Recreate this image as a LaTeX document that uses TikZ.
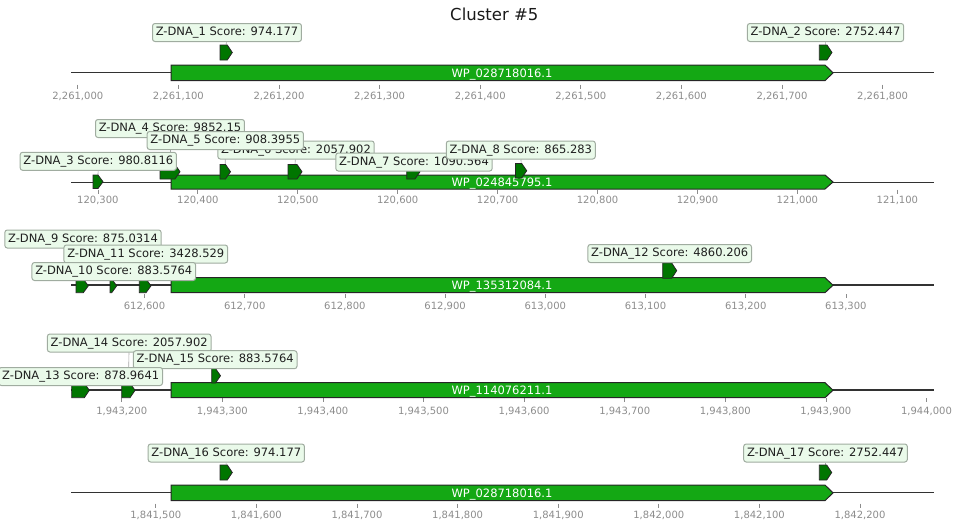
\documentclass[tikz,border=0pt]{standalone}
\usepackage{fontspec}
\setmainfont{DejaVu Sans}
\usetikzlibrary{backgrounds}
\definecolor{genefill}{RGB}{20,168,20}
\definecolor{markfill}{RGB}{0,118,0}
\definecolor{lblfill}{RGB}{234,250,234}
\definecolor{lbldraw}{RGB}{160,172,160}
\definecolor{tickgray}{RGB}{140,140,140}
\definecolor{axisgray}{RGB}{50,50,50}
\tikzset{
 axisline/.style={draw=axisgray, line width=1.5pt},
 genebox/.style={draw=black!85, fill=genefill, line width=1pt, line join=miter},
 zmk/.style={draw=black!85, fill=markfill, line width=0.8pt},
 lbl/.style={draw=lbldraw, fill=lblfill, rounded corners=2.5pt, line width=1pt,
   font=\fontsize{11.5}{13}\selectfont, text=black!88, inner xsep=3.3pt, inner ysep=0pt,
   text height=8.5pt, text depth=2.5pt, minimum height=18pt},
 glbl/.style={font=\fontsize{11.5}{13}\selectfont, text=white, inner sep=0pt},
 ticklbl/.style={font=\fontsize{10}{12}\selectfont, text=tickgray, inner sep=0pt},
 tickmark/.style={draw=tickgray, line width=0.8pt},
 conn/.style={draw=gray!70, line width=0.6pt},
}
\newcommand\zmark[5]{%
 \pgfmathsetmacro\zhx{max(#2,#3-5)}%
 \pgfmathsetmacro\zmy{(#4+#5)/2}%
 \draw[zmk] (#2,#4) -- (\zhx,#4) -- (#3,\zmy) -- (\zhx,#5) -- (#2,#5) -- cycle;
 \coordinate (#1) at ({(#2+#3)/2},#4);}
\newcommand\genebx[6]{%
 \pgfmathsetmacro\ghx{#3-8}%
 \pgfmathsetmacro\gmy{(#4+#5)/2}%
 \draw[genebox] (#2,#4) -- (\ghx,#4) -- (#3,\gmy) -- (\ghx,#5) -- (#2,#5) -- cycle;
 \node[glbl, anchor=base] (#1) at ({(#2+#3)/2},{\gmy+4.2}) {#6};}
\begin{document}
\begin{tikzpicture}[x=1pt,y=-1pt]
\useasboundingbox (0,0) rectangle (974,530);
\node[anchor=base, font=\fontsize{16.5}{18}\selectfont, text=black!90, inner sep=0pt] (title) at (494.3,20) {Cluster \#5};

% ---------- axis lines ----------
\coordinate (a1s) at (71,72.7);  \coordinate (a1e) at (934,72.7);
\coordinate (a2s) at (71,182.7); \coordinate (a2e) at (934,182.7);
\coordinate (a3s) at (71,285);   \coordinate (a3e) at (934,285);
\coordinate (a4s) at (71,390);   \coordinate (a4e) at (934,390);
\coordinate (a5s) at (71,492.7); \coordinate (a5e) at (934,492.7);
\foreach \i in {1,...,5}{\draw[axisline] (a\i s) -- (a\i e);}

% ---------- ticks ----------
\foreach \k/\t in {0/{2,261,000},1/{2,261,100},2/{2,261,200},3/{2,261,300},4/{2,261,400},5/{2,261,500},6/{2,261,600},7/{2,261,700},8/{2,261,800}}{
 \pgfmathsetmacro\tx{77.8+100.6*\k}
 \draw[tickmark] (\tx,84.5) -- (\tx,88.5);
 \node[ticklbl, anchor=base] (ta\k) at (\tx,99.6) {\t};}
\foreach \k/\t in {0/{120,300},1/{120,400},2/{120,500},3/{120,600},4/{120,700},5/{120,800},6/{120,900},7/{121,000},8/{121,100}}{
 \pgfmathsetmacro\tx{97.9+99.93*\k}
 \draw[tickmark] (\tx,189.5) -- (\tx,193.5);
 \node[ticklbl, anchor=base] (tb\k) at (\tx,203.6) {\t};}
\foreach \k/\t in {0/{612,600},1/{612,700},2/{612,800},3/{612,900},4/{613,000},5/{613,100},6/{613,200},7/{613,300}}{
 \pgfmathsetmacro\tx{144.5+100.2*\k}
 \draw[tickmark] (\tx,294) -- (\tx,298);
 \node[ticklbl, anchor=base] (tc\k) at (\tx,309.6) {\t};}
\foreach \k/\t in {0/{1,943,200},1/{1,943,300},2/{1,943,400},3/{1,943,500},4/{1,943,600},5/{1,943,700},6/{1,943,800},7/{1,943,900},8/{1,944,000}}{
 \pgfmathsetmacro\tx{121.7+100.6*\k}
 \draw[tickmark] (\tx,398) -- (\tx,402);
 \node[ticklbl, anchor=base] (td\k) at (\tx,414.3) {\t};}
\foreach \k/\t in {0/{1,841,500},1/{1,841,600},2/{1,841,700},3/{1,841,800},4/{1,841,900},5/{1,842,000},6/{1,842,100},7/{1,842,200}}{
 \pgfmathsetmacro\tx{155.8+100.6*\k}
 \draw[tickmark] (\tx,503.5) -- (\tx,507.5);
 \node[ticklbl, anchor=base] (te\k) at (\tx,518.6) {\t};}

% ---------- genes ----------
\genebx{g1}{171}{833}{65}{80.7}{WP\_028718016.1}
\genebx{g2}{171}{833}{175}{189}{WP\_024845795.1}
\genebx{g3}{171}{833}{277.7}{292.7}{WP\_135312084.1}
\genebx{g4}{171}{833}{382.7}{397.7}{WP\_114076211.1}
\genebx{g5}{171}{833}{485}{500.7}{WP\_028718016.1}

% ---------- Z-DNA markers ----------
\zmark{m1}{220}{232.3}{45}{60}
\zmark{m2}{819.3}{832}{45}{60}
\zmark{m3}{93}{103}{175}{188.5}
\zmark{m4}{160}{180}{164.5}{179}
\zmark{m5}{220}{230.5}{164.5}{179}
\zmark{m6}{288}{302}{164.5}{179}
\zmark{m7}{406.7}{420}{164.5}{179}
\zmark{m8}{515.5}{526.7}{163.5}{178}
\zmark{m9}{76}{88.3}{279}{292.7}
\zmark{m10}{110}{116.7}{279}{292.7}
\zmark{m11}{139.3}{151}{279}{292.7}
\zmark{m12}{662.7}{676.7}{263}{278.3}
\zmark{m13}{71.7}{89.3}{383}{397.7}
\zmark{m14}{121.7}{135}{383}{397.7}
\zmark{m15}{211.7}{220.5}{368.5}{383}
\zmark{m16}{220}{232.3}{465}{480}
\zmark{m17}{819.3}{831.7}{465}{480}

% ---------- labels ----------
\node[lbl] (l1) at (227,32.5) {Z-DNA\_1 Score: 974.177};
\node[lbl] (l2) at (825.5,32.5) {Z-DNA\_2 Score: 2752.447};
\node[lbl] (l4) at (170,128.5) {Z-DNA\_4 Score: 9852.15};
\node[lbl] (l6) at (296,150) {Z-DNA\_6 Score: 2057.902};
\node[lbl] (l5) at (225.3,140.5) {Z-DNA\_5 Score: 908.3955};
\node[lbl] (l3) at (98.3,161.3) {Z-DNA\_3 Score: 980.8116};
\node[lbl] (l7) at (414,162) {Z-DNA\_7 Score: 1090.564};
\node[lbl] (l8) at (520.8,150) {Z-DNA\_8 Score: 865.283};
\node[lbl] (l9) at (83,239) {Z-DNA\_9 Score: 875.0314};
\node[lbl] (l11) at (145.8,254) {Z-DNA\_11 Score: 3428.529};
\node[lbl] (l10) at (113.8,271.5) {Z-DNA\_10 Score: 883.5764};
\node[lbl] (l12) at (669.7,253.5) {Z-DNA\_12 Score: 4860.206};
\node[lbl] (l14) at (129.2,343) {Z-DNA\_14 Score: 2057.902};
\node[lbl] (l15) at (215.2,359.7) {Z-DNA\_15 Score: 883.5764};
\node[lbl] (l13) at (80.7,376.5) {Z-DNA\_13 Score: 878.9641};
\node[lbl] (l16) at (226.3,453) {Z-DNA\_16 Score: 974.177};
\node[lbl] (l17) at (825.5,453) {Z-DNA\_17 Score: 2752.447};

% ---------- connectors ----------
\begin{pgfonlayer}{background}
\foreach \i in {1,...,17}{\draw[conn] (l\i) -- (m\i);}
\end{pgfonlayer}
\end{tikzpicture}
\end{document}
